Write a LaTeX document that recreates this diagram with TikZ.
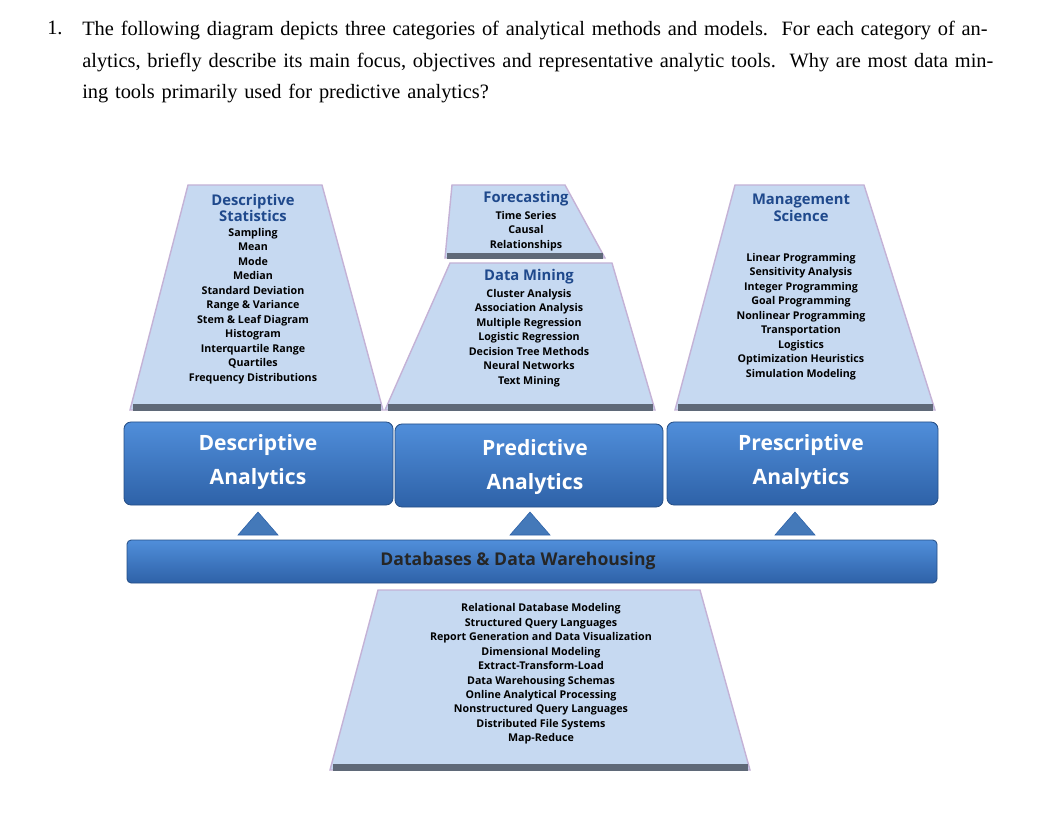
\documentclass[tikz,border=0pt]{standalone}
\usepackage{fontspec}
\setmainfont{Liberation Serif}
\newfontfamily\diafont{Open Sans}
\usetikzlibrary{positioning}
\definecolor{trapfill}{RGB}{198,217,241}
\definecolor{trapline}{RGB}{196,178,214}
\definecolor{trapshade}{RGB}{95,105,120}
\definecolor{boxtop}{RGB}{80,142,218}
\definecolor{boxbot}{RGB}{46,98,168}
\definecolor{titleblue}{RGB}{31,73,140}
\tikzset{
  trap/.style={fill=trapfill, draw=trapline, line width=1pt},
  shade bar/.style={fill=trapshade},
  bluebox/.style={rounded corners=5pt, top color=boxtop, bottom color=boxbot, draw=boxbot!80!black, line width=0.6pt},
  tri/.style={fill=boxtop!85!black, draw=boxbot},
  head/.style={font=\diafont\bfseries\fontsize{10.5}{12}\selectfont, text=titleblue, align=center, inner sep=0pt},
  items/.style={font=\diafont\bfseries\fontsize{7.6}{10.3}\selectfont, align=center, inner sep=0pt},
  big/.style={font=\diafont\bfseries\fontsize{15}{24}\selectfont, text=white, align=center, inner sep=0pt},
  question/.style={font=\fontsize{14.5}{22.5}\selectfont, anchor=north west, inner sep=0pt, align=left}
}
\begin{document}
\begin{tikzpicture}[x=0.025cm, y=-0.025cm]
\useasboundingbox (0,0) rectangle (1041,813);
% question
\node[question] (num) at (47,21) {1.};
\node[question, text width=23cm] (qtext) at (82,21) {The following diagram depicts three categories of analytical methods and models.\ \ For each category of analytics, briefly describe its main focus, objectives and representative analytic tools.\ \ Why are most data mining tools primarily used for predictive analytics?};
% trapezoids
\draw[trap] (188,185) -- (322,185) -- (383,410) -- (130,410) -- cycle;
\fill[shade bar] (133,404) rectangle (381,411);
\draw[trap] (452,185) -- (565,185) -- (605,258) -- (445,258) -- cycle;
\fill[shade bar] (447,253) rectangle (603,259);
\draw[trap] (450,263) -- (612,263) -- (655,410) -- (385,410) -- cycle;
\fill[shade bar] (388,404) rectangle (653,411);
\draw[trap] (735,185) -- (864,185) -- (935,410) -- (675,410) -- cycle;
\fill[shade bar] (678,404) rectangle (933,411);
\draw[trap] (378,590) -- (700,590) -- (750,770) -- (330,770) -- cycle;
\fill[shade bar] (333,764) rectangle (748,771);
% descriptive statistics
\node[head] (dstat) at (253,208) {Descriptive\\Statistics};
\node[items, below=4pt of dstat] (dlist) {Sampling\\Mean\\Mode\\Median\\Standard Deviation\\Range \& Variance\\Stem \& Leaf Diagram\\Histogram\\Interquartile Range\\Quartiles\\Frequency Distributions};
% forecasting
\node[head] (fcast) at (526,199) {Forecasting};
\node[items, below=3pt of fcast] (flist) {Time Series\\Causal\\Relationships};
% data mining
\node[head] (dmine) at (529,277) {Data Mining};
\node[items, below=3pt of dmine] (mlist) {Cluster Analysis\\Association Analysis\\Multiple Regression\\Logistic Regression\\Decision Tree Methods\\Neural Networks\\Text Mining};
% management science
\node[head] (mgmt) at (801,208) {Management\\Science};
\node[items, below=22pt of mgmt] (slist) {Linear Programming\\Sensitivity Analysis\\Integer Programming\\Goal Programming\\Nonlinear Programming\\Transportation\\Logistics\\Optimization Heuristics\\Simulation Modeling};
% analytics boxes
\draw[bluebox] (124,422) rectangle (393,505);
\node[big] (desc) at (258,462) {Descriptive\\Analytics};
\draw[bluebox] (395,424) rectangle (663,507);
\node[big] (pred) at (535,467) {Predictive\\Analytics};
\draw[bluebox] (667,422) rectangle (938,505);
\node[big] (presc) at (801,462) {Prescriptive\\Analytics};
% triangles
\foreach \cx in {258,530,795}
  \draw[tri] (\cx-20,535) -- (\cx,512) -- (\cx+20,535) -- cycle;
% databases bar
\draw[bluebox, rounded corners=3pt] (127,540) rectangle (937,583);
\node[font=\diafont\bfseries\fontsize{12.5}{14}\selectfont, text=black!85, inner sep=0pt] (dbase) at (518,561) {Databases \& Data Warehousing};
\node[items] (blist) at (541,674) {Relational Database Modeling\\Structured Query Languages\\Report Generation and Data Visualization\\Dimensional Modeling\\Extract-Transform-Load\\Data Warehousing Schemas\\Online Analytical Processing\\Nonstructured Query Languages\\Distributed File Systems\\Map-Reduce};
\end{tikzpicture}
\end{document}
